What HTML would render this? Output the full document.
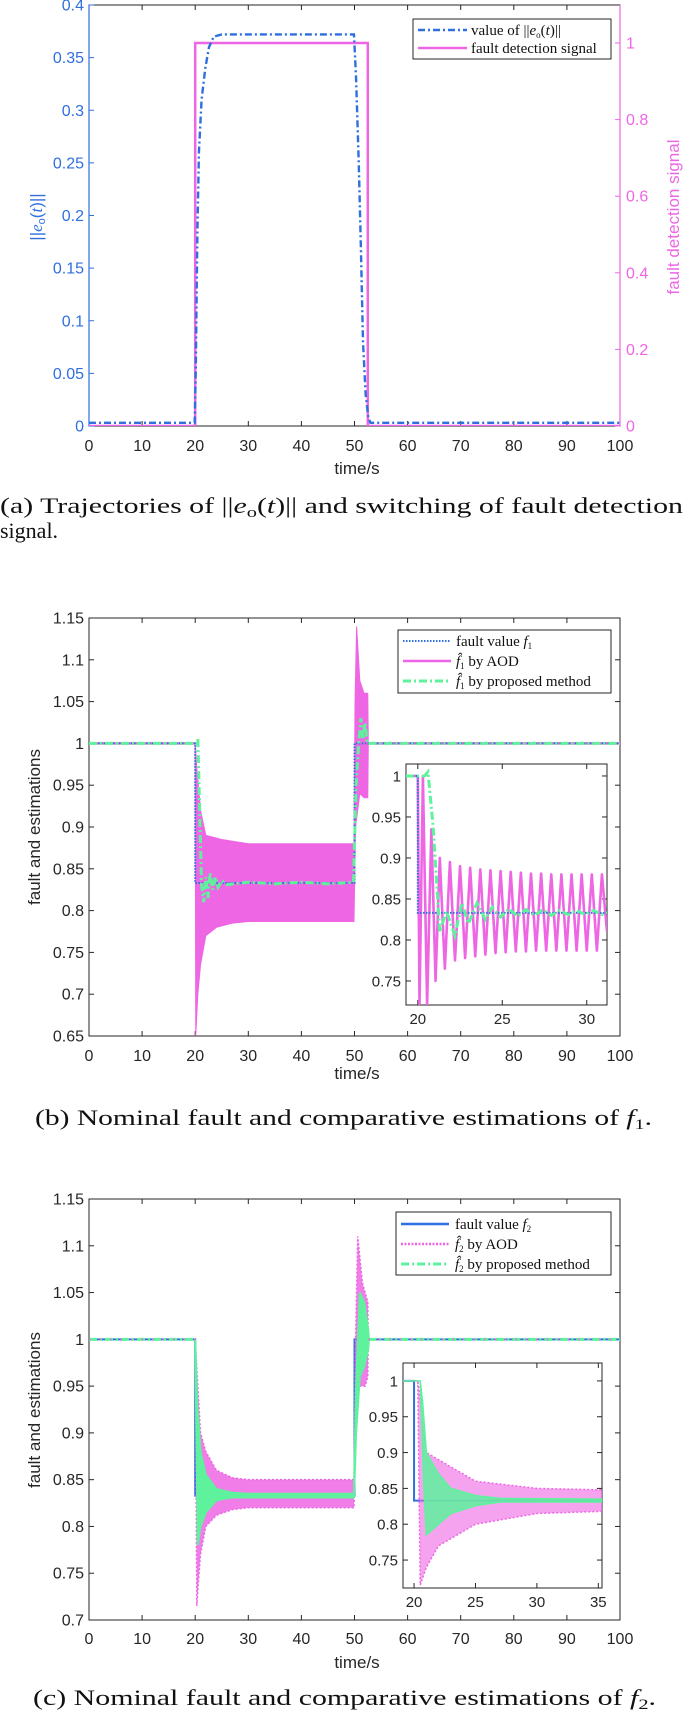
<!DOCTYPE html>
<html><head><meta charset="utf-8">
<style>
html,body{margin:0;padding:0;background:#fff;}
svg{display:block;}
text{font-family:"Liberation Sans",sans-serif;}
.serif{font-family:"Liberation Serif",serif;}
</style></head>
<body>
<svg id="fig" width="685" height="1712" viewBox="0 0 685 1712" xmlns="http://www.w3.org/2000/svg">
<defs>
<clipPath id="c1"><rect x="89" y="5" width="531" height="421"/></clipPath>
<clipPath id="c2"><rect x="89" y="618" width="531" height="418"/></clipPath>
<clipPath id="c2i"><rect x="406" y="764" width="201" height="241"/></clipPath>
<clipPath id="c3"><rect x="89" y="1199" width="531" height="421"/></clipPath>
<clipPath id="c3i"><rect x="403" y="1363" width="199" height="225"/></clipPath>
</defs>
</svg>
<script>
// ---------- Chart (a) data ----------
const eoT = [0,5,10,15,19.9,20.1,20.4,20.7,21.2,21.9,22.6,23.5,25,30,40,49.9,50.3,50.8,51.2,51.6,52.1,52.6,53,60,80,100];
const eoV = [0.003,0.003,0.003,0.003,0.003,0.05,0.18,0.26,0.31,0.34,0.36,0.37,0.372,0.372,0.372,0.372,0.33,0.25,0.17,0.08,0.03,0.008,0.003,0.003,0.003,0.003];
const fdT = [0,20,20,52.5,52.5,100];
const fdV = [0,0,1,1,0,0];
const xTicksMain = [0,10,20,30,40,50,60,70,80,90,100];
const yTicksA = [0,0.05,0.1,0.15,0.2,0.25,0.3,0.35,0.4];
const yTicksAR = [0,0.2,0.4,0.6,0.8,1];
// ---------- Chart (b) data ----------
const f1T = [0,20,20,50,50,100];
const f1V = [1,1,0.833,0.833,1,1];
const aod1UpT = [20,20.3,20.6,21,22,25,30,49.9,50.1,50.4,51,51.8,52.5,52.6];
const aod1UpV = [1,0.97,0.95,0.92,0.89,0.885,0.88,0.88,1.05,1.14,1.075,1.06,1.06,1];
const aod1LoT = [20,20.1,20.5,21,22,24,27,30,49.9,50.2,51,51.8,52.5,52.6];
const aod1LoV = [1,0.65,0.70,0.735,0.77,0.78,0.785,0.787,0.787,0.9,0.94,0.935,0.935,1];
const pr1T = [0,20.3,20.5,20.8,21.2,21.6,22,22.4,22.8,23.3,23.8,24.3,25,26,30,35,40,45,49.8,50.3,50.8,51.2,51.6,52,52.4,52.6,100];
const pr1V = [1,1,1.005,0.93,0.83,0.81,0.84,0.815,0.845,0.825,0.84,0.828,0.836,0.831,0.834,0.832,0.834,0.832,0.834,0.95,1.0,1.03,1.005,1.025,1.0,1,1];
const inX2 = [20,25,30];
const inY2 = [0.75,0.8,0.85,0.9,0.95,1];
const aodInT = [19.3,20.0,20.1,20.3,20.55,20.8,21.05,21.3,21.6,21.9,22.2,22.5,22.8,23.1,23.4,23.7,24.0,24.3,24.6,24.9,25.2,25.5,25.8,26.1,26.4,26.7,27.0,27.3,27.6,27.9,28.2,28.5,28.8,29.1,29.4,29.7,30.0,30.3,30.6,30.9,31.2];
const aodInV = [1,1,0.72,1.0,0.72,0.935,0.75,0.90,0.765,0.895,0.775,0.89,0.778,0.888,0.78,0.886,0.782,0.885,0.784,0.884,0.785,0.883,0.786,0.882,0.786,0.881,0.787,0.881,0.787,0.88,0.787,0.88,0.787,0.88,0.787,0.88,0.787,0.88,0.787,0.88,0.81];
const prInT = [19.3,20.4,20.6,20.9,21.3,21.7,22.2,22.6,23.0,23.5,24.0,24.4,24.9,25.4,25.9,26.4,26.9,27.4,27.9,28.4,28.9,29.4,29.9,30.4,30.9,31.2];
const prInV = [1,1,1.005,0.94,0.81,0.835,0.805,0.845,0.82,0.845,0.825,0.84,0.828,0.838,0.829,0.837,0.83,0.837,0.83,0.836,0.831,0.836,0.831,0.836,0.831,0.834];
// ---------- Chart (c) data ----------
const f2T = [0,20,20,50,50,100];
const f2V = [1,1,0.833,0.833,1,1];
const aod2UpT = [20,20.3,21,22,24,27,30,49.9,50.2,50.6,51.5,52.5,52.6];
const aod2UpV = [1,0.97,0.9,0.88,0.86,0.852,0.85,0.85,1.0,1.11,1.06,1.04,1];
const aod2LoT = [20,20.3,20.6,21,22,24,27,30,49.9,50.3,51,52,52.5,52.6];
const aod2LoV = [1,0.715,0.74,0.77,0.80,0.812,0.818,0.82,0.82,0.93,0.95,0.95,0.96,1];
const pr2UpT = [20,20.4,21,22,24,27,30,49.9,50.3,51,51.8,52.6,52.7];
const pr2UpV = [1,0.93,0.88,0.855,0.84,0.836,0.835,0.835,0.95,1.05,1.04,1.01,1];
const pr2LoT = [20,20.5,21,22,24,27,30,49.9,50.3,51,51.8,52.6,52.7];
const pr2LoV = [1,0.78,0.8,0.815,0.828,0.831,0.831,0.831,0.9,0.96,0.97,0.99,1];
const inX3 = [20,25,30,35];
const inY3 = [0.75,0.8,0.85,0.9,0.95,1];
const aod3UpT = [19.1,20.3,20.5,21,22,25,30,35.3];
const aod3UpV = [1,1,0.975,0.9,0.89,0.86,0.85,0.848];
const aod3LoT = [19.1,20.3,20.5,21,22,25,30,35.3];
const aod3LoV = [1,1,0.715,0.74,0.77,0.80,0.815,0.818];
const pr3UpT = [19.1,20.5,20.7,21,22,23,25,27,35.3];
const pr3UpV = [1,1,0.97,0.9,0.87,0.85,0.84,0.836,0.835];
const pr3LoT = [19.1,20.5,20.8,21,22,23,25,27,35.3];
const pr3LoV = [1,1,0.85,0.785,0.80,0.815,0.826,0.831,0.831];

const NS = "http://www.w3.org/2000/svg";
const svg = document.getElementById('fig');
function el(tag, attrs, parent){
  const e = document.createElementNS(NS, tag);
  for (const k in attrs) e.setAttribute(k, attrs[k]);
  (parent || svg).appendChild(e);
  return e;
}
function lin(d0,d1,r0,r1){ return v => r0 + (v-d0)/(d1-d0)*(r1-r0); }
function pathD(ts, vs, sx, sy){
  return ts.map((t,i)=>(i?'L':'M')+sx(t).toFixed(2)+','+sy(vs[i]).toFixed(2)).join(' ');
}
function bandD(tu, vu, tl, vl, sx, sy){
  let d = pathD(tu, vu, sx, sy);
  for (let i=tl.length-1;i>=0;i--) d += ' L'+sx(tl[i]).toFixed(2)+','+sy(vl[i]).toFixed(2);
  return d+' Z';
}
function frame(L,T,R,B,name){
  const r = el('rect',{x:L,y:T,width:R-L,height:B-T,fill:'#fff',stroke:'#262626','stroke-width':1});
  
  
}
function xTicks(ticks, sx, T, B, ly, name, fs){
  ticks.forEach(v=>{
    const x = sx(v);
    const t1 = el('line',{x1:x,y1:B,x2:x,y2:B-5,stroke:'#262626'});
    
    
    const t2 = el('line',{x1:x,y1:T,x2:x,y2:T+5,stroke:'#262626'});
    
    
    const tx = el('text',{x:x,y:ly,'text-anchor':'middle','font-size':fs,fill:'#262626'});
    tx.textContent = v;
    
    
  });
}
function yTicks(ticks, sy, L, R, name, fs, color, both){
  ticks.forEach(v=>{
    const y = sy(v);
    const t1 = el('line',{x1:L,y1:y,x2:L+5,y2:y,stroke:color});
    
    
    if (both){
      const t2 = el('line',{x1:R,y1:y,x2:R-5,y2:y,stroke:'#262626'});
      
      
    }
    const tx = el('text',{x:L-5,y:y+5.5,'text-anchor':'end','font-size':fs,fill:color});
    tx.textContent = v;
    
    
  });
}
function addLabel(txt, attrs, name){
  const t = el('text', attrs);
  t.textContent = txt;
  
  
  return t;
}
const BLUE='#2f6fe0', PINK='#ee66e4', GREEN='#5ef29c';

// ================= Chart (a) =================
{
  const L=89,R=620,T=5,B=426;
  const sx=lin(0,100,L,R), sy=lin(0,0.4,B,T), syR=lin(0,1,B,43);
  frame(L,T,R,B,'plot-a-frame');
  xTicks(xTicksMain, sx, T, B, 451, 'x-axis-a', 16);
  yTicks(yTicksA, sy, L, R, 'y-axis-left-a', 16, BLUE, false);
  const la = el('line',{x1:L,y1:T,x2:L,y2:B,stroke:BLUE,'stroke-width':1.2});
  
  
  const ra = el('line',{x1:R,y1:T,x2:R,y2:B,stroke:PINK,'stroke-width':1.2});
  
  
  yTicksAR.forEach(v=>{
    const y=syR(v);
    const tk = el('line',{x1:R,y1:y,x2:R-5,y2:y,stroke:PINK});
    
    
    const tl = el('text',{x:R+6,y:y+5.5,'font-size':16,fill:PINK});
    tl.textContent=v;
    
    
  });
  const g = el('g',{'clip-path':'url(#c1)'});
  
  
  const fd = el('path',{d:pathD(fdT,fdV,sx,syR),fill:'none',stroke:PINK,'stroke-width':2.5},g);
  
  
  const eo = el('path',{d:pathD(eoT,eoV,sx,sy),fill:'none',stroke:BLUE,'stroke-width':2.4,'stroke-dasharray':'7,3,2,3'},g);
  
  
  addLabel('time/s',{x:357,y:474,'text-anchor':'middle','font-size':17,fill:'#262626'},'x-axis-a-title');
  const yl = addLabel('',{x:0,y:0,'font-size':17,fill:BLUE,transform:'translate(42,217) rotate(-90)','text-anchor':'middle'},'y-axis-left-a-title');
  yl.innerHTML = '||<tspan font-style="italic" font-family="Liberation Serif">e</tspan><tspan font-size="11" dy="3">o</tspan><tspan dy="-3">(</tspan><tspan font-style="italic" font-family="Liberation Serif">t</tspan>)||';
  addLabel('fault detection signal',{x:0,y:0,'font-size':17,fill:PINK,transform:'translate(679,217) rotate(-90)','text-anchor':'middle'},'y-axis-right-a-title');
  const lg = el('rect',{x:413,y:19,width:198,height:40,fill:'#fff',stroke:'#262626'});
  
  
  const l1 = el('line',{x1:418,y1:30,x2:467,y2:30,stroke:BLUE,'stroke-width':2.4,'stroke-dasharray':'7,3,2,3'});
  
  
  const lt1 = addLabel('',{x:471,y:35,'font-size':15,fill:'#111',class:'serif'},'legend-a-entry-eo');
  lt1.innerHTML='value of ||<tspan font-style="italic">e</tspan><tspan font-size="9" dy="3">o</tspan><tspan dy="-3">(</tspan><tspan font-style="italic">t</tspan>)||';
  const l2 = el('line',{x1:418,y1:48,x2:467,y2:48,stroke:PINK,'stroke-width':2.5});
  
  
  addLabel('fault detection signal',{x:471,y:53,'font-size':15,fill:'#111',class:'serif'},'legend-a-entry-fd');
  const c1 = addLabel('',{x:0,y:513,'font-size':22,fill:'#111',class:'serif',textLength:683,lengthAdjust:'spacingAndGlyphs'},'caption-a');
  c1.innerHTML='(a) Trajectories of ||<tspan font-style="italic">e</tspan><tspan font-size="15" dy="4">o</tspan><tspan dy="-4">(</tspan><tspan font-style="italic">t</tspan>)|| and switching of fault detection';
  addLabel('signal.',{x:0,y:538,'font-size':22,fill:'#111',class:'serif'},'caption-a-line2');
}

// ================= Chart (b) =================
{
  const L=89,R=620,T=618,B=1036;
  const sx=lin(0,100,L,R), sy=lin(0.65,1.15,B,T);
  frame(L,T,R,B,'plot-b-frame');
  xTicks(xTicksMain, sx, T, B, 1061, 'x-axis-b', 16);
  yTicks([0.65,0.7,0.75,0.8,0.85,0.9,0.95,1,1.05,1.1,1.15], sy, L, R, 'y-axis-b', 16, '#262626', true);
  const g = el('g',{'clip-path':'url(#c2)'});
  
  
  const ab = el('path',{d:bandD(aod1UpT,aod1UpV,aod1LoT,aod1LoV,sx,sy),fill:PINK,stroke:PINK,'stroke-width':1},g);
  
  
  const fa = el('path',{d:pathD([0,20],[1,1],sx,sy)+' '+pathD([52.6,100],[1,1],sx,sy),fill:'none',stroke:PINK,'stroke-width':2.5},g);
  
  
  const fv = el('path',{d:pathD(f1T,f1V,sx,sy),fill:'none',stroke:BLUE,'stroke-width':2,'stroke-dasharray':'1.5,1.5'},g);
  
  
  const pr = el('path',{d:pathD(pr1T,pr1V,sx,sy),fill:'none',stroke:GREEN,'stroke-width':3,'stroke-dasharray':'8,3,2,3'},g);
  
  
  addLabel('time/s',{x:357,y:1079,'text-anchor':'middle','font-size':17,fill:'#262626'},'x-axis-b-title');
  addLabel('fault and estimations',{x:0,y:0,'font-size':17,fill:'#262626',transform:'translate(40,827) rotate(-90)','text-anchor':'middle'},'y-axis-b-title');
  const iL=406,iR=607,iT=764,iB=1005;
  const ix=lin(19.3,31.2,iL,iR), iy=lin(0.7207,1.0146,iB,iT);
  frame(iL,iT,iR,iB,'inset-b-frame');
  xTicks(inX2, ix, iT, iB, 1024, 'inset-b-x', 15);
  yTicks(inY2, iy, iL, iR, 'inset-b-y', 15, '#262626', true);
  const gi = el('g',{'clip-path':'url(#c2i)'});
  
  
  const ia = el('path',{d:pathD(aodInT,aodInV,ix,iy),fill:'none',stroke:PINK,'stroke-width':2.6,'stroke-linejoin':'round'},gi);
  
  
  const ifv = el('path',{d:pathD(f1T,f1V,ix,iy),fill:'none',stroke:BLUE,'stroke-width':2,'stroke-dasharray':'1.5,1.5'},gi);
  
  
  const ip = el('path',{d:pathD(prInT,prInV,ix,iy),fill:'none',stroke:GREEN,'stroke-width':3,'stroke-dasharray':'8,3,2,3'},gi);
  
  
  const lg = el('rect',{x:398,y:630,width:213,height:63,fill:'#fff',stroke:'#262626'});
  
  
  const s1 = el('line',{x1:403,y1:641,x2:451,y2:641,stroke:BLUE,'stroke-width':2,'stroke-dasharray':'1.5,1.5'});
  
  
  const t1 = addLabel('',{x:456,y:646,'font-size':15,fill:'#111',class:'serif'},'legend-b-fault');
  t1.innerHTML='fault value <tspan font-style="italic">f</tspan><tspan font-size="9" dy="3">1</tspan>';
  const s2 = el('line',{x1:403,y1:661,x2:451,y2:661,stroke:PINK,'stroke-width':2.5});
  
  
  const t2 = addLabel('',{x:456,y:666,'font-size':15,fill:'#111',class:'serif'},'legend-b-aod');
  t2.innerHTML='<tspan font-style="italic">f̂</tspan><tspan font-size="9" dy="3">1</tspan><tspan dy="-3"> by AOD</tspan>';
  const s3 = el('line',{x1:403,y1:681,x2:451,y2:681,stroke:GREEN,'stroke-width':3,'stroke-dasharray':'8,3,2,3'});
  
  
  const t3 = addLabel('',{x:456,y:686,'font-size':15,fill:'#111',class:'serif'},'legend-b-proposed');
  t3.innerHTML='<tspan font-style="italic">f̂</tspan><tspan font-size="9" dy="3">1</tspan><tspan dy="-3"> by proposed method</tspan>';
  const cb = addLabel('',{x:35,y:1125,'font-size':22,fill:'#111',class:'serif',textLength:617,lengthAdjust:'spacingAndGlyphs'},'caption-b');
  cb.innerHTML='(b) Nominal fault and comparative estimations of <tspan font-style="italic">f</tspan><tspan font-size="15" dy="4">1</tspan><tspan dy="-4">.</tspan>';
}

// ================= Chart (c) =================
{
  const L=89,R=620,T=1199,B=1620;
  const sx=lin(0,100,L,R), sy=lin(0.7,1.15,B,T);
  frame(L,T,R,B,'plot-c-frame');
  xTicks(xTicksMain, sx, T, B, 1644, 'x-axis-c', 16);
  yTicks([0.7,0.75,0.8,0.85,0.9,0.95,1,1.05,1.1,1.15], sy, L, R, 'y-axis-c', 16, '#262626', true);
  const g = el('g',{'clip-path':'url(#c3)'});
  
  
  const fv = el('path',{d:pathD(f2T,f2V,sx,sy),fill:'none',stroke:BLUE,'stroke-width':2},g);
  
  
  const ab = el('path',{d:bandD(aod2UpT,aod2UpV,aod2LoT,aod2LoV,sx,sy),fill:PINK,'fill-opacity':0.85,stroke:PINK,'stroke-width':1.5,'stroke-dasharray':'2,2'},g);
  
  
  const pb = el('path',{d:bandD(pr2UpT,pr2UpV,pr2LoT,pr2LoV,sx,sy),fill:GREEN,stroke:GREEN,'stroke-width':2},g);
  
  
  const fl = el('path',{d:pathD([0,20],[1,1],sx,sy)+' '+pathD([52.6,100],[1,1],sx,sy),fill:'none',stroke:GREEN,'stroke-width':3,'stroke-dasharray':'8,3,2,3'},g);
  
  
  const pl = el('path',{d:pathD([0,20],[1,1],sx,sy)+' '+pathD([52.6,100],[1,1],sx,sy),fill:'none',stroke:PINK,'stroke-width':2,'stroke-dasharray':'1.5,9'},g);
  
  
  addLabel('time/s',{x:357,y:1668,'text-anchor':'middle','font-size':17,fill:'#262626'},'x-axis-c-title');
  addLabel('fault and estimations',{x:0,y:0,'font-size':17,fill:'#262626',transform:'translate(40,1410) rotate(-90)','text-anchor':'middle'},'y-axis-c-title');
  const iL=403,iR=602,iT=1363,iB=1588;
  const ix=lin(19.1,35.3,iL,iR), iy=lin(0.711,1.025,iB,iT);
  frame(iL,iT,iR,iB,'inset-c-frame');
  xTicks(inX3, ix, iT, iB, 1607, 'inset-c-x', 15);
  yTicks(inY3, iy, iL, iR, 'inset-c-y', 15, '#262626', true);
  const gi = el('g',{'clip-path':'url(#c3i)'});
  
  
  const ifv = el('path',{d:pathD(f2T,f2V,ix,iy),fill:'none',stroke:BLUE,'stroke-width':2},gi);
  
  
  const ia = el('path',{d:bandD(aod3UpT,aod3UpV,aod3LoT,aod3LoV,ix,iy),fill:PINK,'fill-opacity':0.6,stroke:PINK,'stroke-width':1.5,'stroke-dasharray':'2,2'},gi);
  
  
  const ip = el('path',{d:bandD(pr3UpT,pr3UpV,pr3LoT,pr3LoV,ix,iy),fill:GREEN,'fill-opacity':0.85,stroke:GREEN,'stroke-width':1.5},gi);
  
  
  const lg = el('rect',{x:396,y:1212,width:215,height:63,fill:'#fff',stroke:'#262626'});
  
  
  const s1 = el('line',{x1:401,y1:1224,x2:449,y2:1224,stroke:BLUE,'stroke-width':2.5});
  
  
  const t1 = addLabel('',{x:455,y:1229,'font-size':15,fill:'#111',class:'serif'},'legend-c-fault');
  t1.innerHTML='fault value <tspan font-style="italic">f</tspan><tspan font-size="9" dy="3">2</tspan>';
  const s2 = el('line',{x1:401,y1:1244,x2:449,y2:1244,stroke:PINK,'stroke-width':2.5,'stroke-dasharray':'2,1.5'});
  
  
  const t2 = addLabel('',{x:455,y:1249,'font-size':15,fill:'#111',class:'serif'},'legend-c-aod');
  t2.innerHTML='<tspan font-style="italic">f̂</tspan><tspan font-size="9" dy="3">2</tspan><tspan dy="-3"> by AOD</tspan>';
  const s3 = el('line',{x1:401,y1:1264,x2:449,y2:1264,stroke:GREEN,'stroke-width':3,'stroke-dasharray':'8,3,2,3'});
  
  
  const t3 = addLabel('',{x:455,y:1269,'font-size':15,fill:'#111',class:'serif'},'legend-c-proposed');
  t3.innerHTML='<tspan font-style="italic">f̂</tspan><tspan font-size="9" dy="3">2</tspan><tspan dy="-3"> by proposed method</tspan>';
  const cc = addLabel('',{x:33,y:1705,'font-size':22,fill:'#111',class:'serif',textLength:623,lengthAdjust:'spacingAndGlyphs'},'caption-c');
  cc.innerHTML='(c) Nominal fault and comparative estimations of <tspan font-style="italic">f</tspan><tspan font-size="15" dy="4">2</tspan><tspan dy="-4">.</tspan>';
}
</script>
</body></html>
